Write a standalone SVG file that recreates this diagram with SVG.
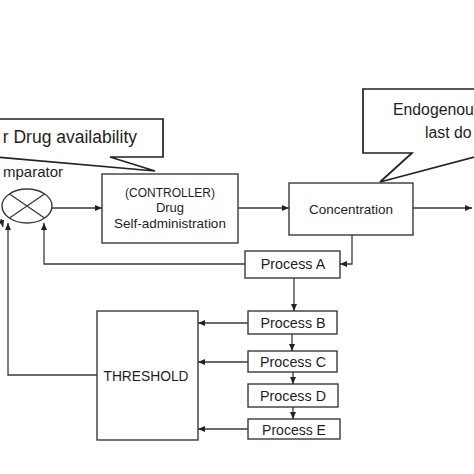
<svg xmlns="http://www.w3.org/2000/svg" width="474" height="474" viewBox="0 0 474 474">
<defs>
<marker id="ah" markerUnits="userSpaceOnUse" markerWidth="8" markerHeight="8" viewBox="0 0 8 8" refX="7" refY="4" orient="auto">
<path d="M0,1 L7,4 L0,7 z" fill="#222"/>
</marker>
<style>
.box{fill:#fff;stroke:#3a3a3a;stroke-width:1.4}
.call{fill:#fff;stroke:#222;stroke-width:1.7;stroke-linejoin:miter}
.con{fill:none;stroke:#3a3a3a;stroke-width:1.3;marker-end:url(#ah)}
.t{font-family:"Liberation Sans",Arial,sans-serif;fill:#1e1e1e;text-anchor:middle}
</style>
</defs>
<rect width="474" height="474" fill="#fff"/>

<g id="callout-drug">
<polygon class="call" points="-60,119 163,119 163,157 110,157 155,171 -5,157 -60,157"/>
<text class="t" x="137" y="143" font-size="17.5" style="text-anchor:end">r Drug availability</text>
</g>

<g id="callout-endogenous">
<polygon class="call" points="363,89 540,89 540,153 490,153 380,182 412,153 363,153"/>
<text class="t" x="393" y="115" font-size="15.8" style="text-anchor:start">Endogenou</text>
<text class="t" x="425" y="138" font-size="15.8" style="text-anchor:start">last do</text>
</g>

<g id="comparator">
<text class="t" x="63" y="177" font-size="15" style="text-anchor:end">mparator</text>
<ellipse cx="27" cy="206" rx="25" ry="17" fill="#fff" stroke="#3a3a3a" stroke-width="1.4"/>
<path d="M9.5,194 L44.5,218 M9.5,218 L44.5,194" stroke="#3a3a3a" stroke-width="1.3" fill="none"/>
</g>

<g id="controller">
<rect class="box" x="102" y="174" width="136" height="69"/>
<text class="t" x="170" y="197" font-size="12">(CONTROLLER)</text>
<text class="t" x="170" y="212" font-size="13">Drug</text>
<text class="t" x="170" y="228" font-size="13.5">Self-administration</text>
</g>

<g id="concentration">
<rect class="box" x="289" y="183" width="124" height="52"/>
<text class="t" x="351" y="214" font-size="13.5">Concentration</text>
</g>

<g id="process-a">
<rect class="box" x="245" y="251" width="95" height="27"/>
<text class="t" x="293" y="269" font-size="14.3">Process A</text>
</g>
<g id="process-b">
<rect class="box" x="248" y="311" width="89" height="23"/>
<text class="t" x="293" y="328" font-size="14.3">Process B</text>
</g>
<g id="process-c">
<rect class="box" x="248" y="351" width="89" height="21"/>
<text class="t" x="293" y="367" font-size="14.3">Process C</text>
</g>
<g id="process-d">
<rect class="box" x="248" y="384" width="90" height="23"/>
<text class="t" x="293" y="401" font-size="14.3">Process D</text>
</g>
<g id="process-e">
<rect class="box" x="248" y="419" width="92" height="20"/>
<text class="t" x="294" y="435" font-size="14">Process E</text>
</g>

<g id="threshold">
<rect class="box" x="97" y="311" width="101" height="129"/>
<text class="t" x="146" y="381" font-size="13.8">THRESHOLD</text>
</g>

<g id="connectors">
<path class="con" d="M52,208 H102"/>
<path class="con" d="M238,208 H289"/>
<path class="con" d="M413,208 H472"/>
<path class="con" d="M352,235 V264 H340"/>
<path class="con" d="M245,264 H44 V223"/>
<path class="con" d="M294,278 V311"/>
<path class="con" d="M292,334 V351"/>
<path class="con" d="M293,372 V384"/>
<path class="con" d="M293,407 V419"/>
<path class="con" d="M248,323 H198"/>
<path class="con" d="M248,362 H198"/>
<path class="con" d="M248,429 H198"/>
<path class="con" d="M97,375 H8 V223"/>
<path class="con" d="M1,219 L3,227"/>
</g>
</svg>
